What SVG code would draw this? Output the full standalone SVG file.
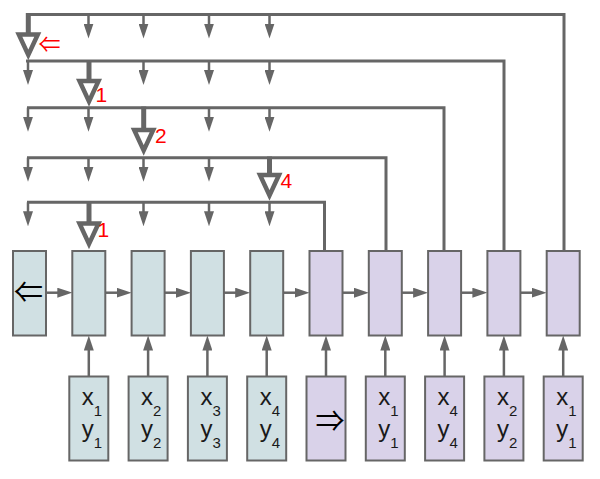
<svg xmlns="http://www.w3.org/2000/svg" xmlns:xlink="http://www.w3.org/1999/xlink" width="600" height="479" viewBox="0 0 600 479">
<style>
  .bus { fill: none; stroke: #666666; stroke-width: 3; }
  .stem { stroke: #666666; stroke-width: 2.5; }
  .thick { stroke: #666666; stroke-width: 5; }
  .hollow { fill: #ffffff; stroke: #666666; stroke-width: 4.5; stroke-linejoin: miter; }
  .blue { fill: #d0e0e3; stroke: #666666; stroke-width: 2; }
  .purple { fill: #d9d2e9; stroke: #666666; stroke-width: 2; }
  .lbl { font-family: "Liberation Sans", Arial, sans-serif; font-size: 24px; fill: #1a1a1a; }
  .sub { font-size: 15px; }
  .red { font-family: "Liberation Sans", Arial, sans-serif; font-size: 21px; fill: #ff0000; }
  .sym { font-family: "Noto Sans CJK JP", "DejaVu Sans", sans-serif; fill: #000000; }
</style>
<defs>
  <marker id="ah" markerUnits="userSpaceOnUse" viewBox="0 0 15 10" markerWidth="15" markerHeight="10" refX="5" refY="5" orient="auto">
    <path d="M0,0 L15,5 L0,10 z" fill="#666666"/>
  </marker>
  <path id="tri" class="hollow" d="M-9.5,-25.5 L9.5,-25.5 L0,-5 z"/>
</defs>

<g id="connectors">
  <!-- bus lines -->
  <path class="bus" d="M26,14.5 H564 V251"/>
  <path class="bus" d="M26,61 H504 V251"/>
  <path class="bus" d="M27,107.7 H444 V251"/>
  <path class="bus" d="M27,157.7 H386 V251"/>
  <path class="bus" d="M27,202.3 H324.5 V251"/>

  <!-- small drop arrows, bus 1 -->
  <line class="stem" x1="88.5" y1="14.5" x2="88.5" y2="28.5" marker-end="url(#ah)"/>
  <line class="stem" x1="143.5" y1="14.5" x2="143.5" y2="28.5" marker-end="url(#ah)"/>
  <line class="stem" x1="209" y1="14.5" x2="209" y2="28.5" marker-end="url(#ah)"/>
  <line class="stem" x1="269.5" y1="14.5" x2="269.5" y2="28.5" marker-end="url(#ah)"/>
  <!-- bus 2 -->
  <line class="stem" x1="28" y1="61" x2="28" y2="75" marker-end="url(#ah)"/>
  <line class="stem" x1="143.5" y1="61" x2="143.5" y2="75" marker-end="url(#ah)"/>
  <line class="stem" x1="209" y1="61" x2="209" y2="75" marker-end="url(#ah)"/>
  <line class="stem" x1="269.5" y1="61" x2="269.5" y2="75" marker-end="url(#ah)"/>
  <!-- bus 3 -->
  <line class="stem" x1="28" y1="107.7" x2="28" y2="121.7" marker-end="url(#ah)"/>
  <line class="stem" x1="88.5" y1="107.7" x2="88.5" y2="121.7" marker-end="url(#ah)"/>
  <line class="stem" x1="209" y1="107.7" x2="209" y2="121.7" marker-end="url(#ah)"/>
  <line class="stem" x1="269.5" y1="107.7" x2="269.5" y2="121.7" marker-end="url(#ah)"/>
  <!-- bus 4 -->
  <line class="stem" x1="28" y1="157.7" x2="28" y2="171.7" marker-end="url(#ah)"/>
  <line class="stem" x1="88.5" y1="157.7" x2="88.5" y2="171.7" marker-end="url(#ah)"/>
  <line class="stem" x1="143.5" y1="157.7" x2="143.5" y2="171.7" marker-end="url(#ah)"/>
  <line class="stem" x1="209" y1="157.7" x2="209" y2="171.7" marker-end="url(#ah)"/>
  <!-- bus 5 -->
  <line class="stem" x1="28" y1="202.3" x2="28" y2="216.3" marker-end="url(#ah)"/>
  <line class="stem" x1="143.5" y1="202.3" x2="143.5" y2="216.3" marker-end="url(#ah)"/>
  <line class="stem" x1="209" y1="202.3" x2="209" y2="216.3" marker-end="url(#ah)"/>
  <line class="stem" x1="269.5" y1="202.3" x2="269.5" y2="216.3" marker-end="url(#ah)"/>

  <!-- big hollow arrows -->
  <g id="big-arrow-0">
    <line class="thick" x1="28.3" y1="13" x2="28.3" y2="35"/>
    <use xlink:href="#tri" href="#tri" x="28.3" y="60"/>
  </g>
  <g id="big-arrow-1">
    <line class="thick" x1="89" y1="60" x2="89" y2="82"/>
    <use xlink:href="#tri" href="#tri" x="89" y="106.5"/>
  </g>
  <g id="big-arrow-2">
    <line class="thick" x1="143.7" y1="106.5" x2="143.7" y2="130"/>
    <use xlink:href="#tri" href="#tri" x="143.7" y="155.5"/>
  </g>
  <g id="big-arrow-3">
    <line class="thick" x1="269.5" y1="156.5" x2="269.5" y2="176"/>
    <use xlink:href="#tri" href="#tri" x="269.5" y="200.5"/>
  </g>
  <g id="big-arrow-4">
    <line class="thick" x1="89" y1="201" x2="89" y2="224"/>
    <use xlink:href="#tri" href="#tri" x="89" y="249"/>
  </g>

  <!-- horizontal arrows between upper boxes -->
  <line class="stem" x1="46" y1="292.7" x2="62.3" y2="292.7" marker-end="url(#ah)"/>
  <line class="stem" x1="105.3" y1="292.7" x2="121.6" y2="292.7" marker-end="url(#ah)"/>
  <line class="stem" x1="164.6" y1="292.7" x2="180.9" y2="292.7" marker-end="url(#ah)"/>
  <line class="stem" x1="223.9" y1="292.7" x2="240.2" y2="292.7" marker-end="url(#ah)"/>
  <line class="stem" x1="283.2" y1="292.7" x2="299.5" y2="292.7" marker-end="url(#ah)"/>
  <line class="stem" x1="342.5" y1="292.7" x2="358.8" y2="292.7" marker-end="url(#ah)"/>
  <line class="stem" x1="401.8" y1="292.7" x2="418.1" y2="292.7" marker-end="url(#ah)"/>
  <line class="stem" x1="461.1" y1="292.7" x2="477.4" y2="292.7" marker-end="url(#ah)"/>
  <line class="stem" x1="520.4" y1="292.7" x2="536.7" y2="292.7" marker-end="url(#ah)"/>

  <!-- vertical arrows from inputs -->
  <line class="stem" x1="88.8" y1="376.5" x2="88.8" y2="345.5" marker-end="url(#ah)"/>
  <line class="stem" x1="148.1" y1="376.5" x2="148.1" y2="345.5" marker-end="url(#ah)"/>
  <line class="stem" x1="207.4" y1="376.5" x2="207.4" y2="345.5" marker-end="url(#ah)"/>
  <line class="stem" x1="266.7" y1="376.5" x2="266.7" y2="345.5" marker-end="url(#ah)"/>
  <line class="stem" x1="326" y1="376.5" x2="326" y2="345.5" marker-end="url(#ah)"/>
  <line class="stem" x1="385.3" y1="376.5" x2="385.3" y2="345.5" marker-end="url(#ah)"/>
  <line class="stem" x1="444.6" y1="376.5" x2="444.6" y2="345.5" marker-end="url(#ah)"/>
  <line class="stem" x1="503.9" y1="376.5" x2="503.9" y2="345.5" marker-end="url(#ah)"/>
  <line class="stem" x1="563.2" y1="376.5" x2="563.2" y2="345.5" marker-end="url(#ah)"/>
</g>

<g id="labels">
  <text class="sym" style="fill:#ff0000" x="49.5" y="51.5" font-size="22" text-anchor="middle">⇐</text>
  <text class="red" x="95.5" y="101.7">1</text>
  <text class="red" x="155" y="143.3">2</text>
  <text class="red" x="280.5" y="188.3">4</text>
  <text class="red" x="97.5" y="236.7">1</text>
</g>

<!-- upper row -->
<g id="h0"><rect class="blue" x="13" y="251" width="33" height="84.5"/><text class="sym" x="28.5" y="303" font-size="29" text-anchor="middle">⇐</text></g>
<g id="h1"><rect class="blue" x="72.3" y="251" width="33" height="84.5"/></g>
<g id="h2"><rect class="blue" x="131.6" y="251" width="33" height="84.5"/></g>
<g id="h3"><rect class="blue" x="190.9" y="251" width="33" height="84.5"/></g>
<g id="h4"><rect class="blue" x="250.2" y="251" width="33" height="84.5"/></g>
<g id="h5"><rect class="purple" x="309.5" y="251" width="33" height="84.5"/></g>
<g id="h6"><rect class="purple" x="368.8" y="251" width="33" height="84.5"/></g>
<g id="h7"><rect class="purple" x="428.1" y="251" width="33" height="84.5"/></g>
<g id="h8"><rect class="purple" x="487.4" y="251" width="33" height="84.5"/></g>
<g id="h9"><rect class="purple" x="546.7" y="251" width="33" height="84.5"/></g>

<!-- input row -->
<g id="in1"><rect class="blue" x="69.3" y="376.5" width="39" height="84"/>
  <text class="lbl" x="81.8" y="405">x<tspan class="sub" dy="11">1</tspan></text>
  <text class="lbl" x="81.8" y="437">y<tspan class="sub" dy="11">1</tspan></text></g>
<g id="in2"><rect class="blue" x="128.6" y="376.5" width="39" height="84"/>
  <text class="lbl" x="141.1" y="405">x<tspan class="sub" dy="11">2</tspan></text>
  <text class="lbl" x="141.1" y="437">y<tspan class="sub" dy="11">2</tspan></text></g>
<g id="in3"><rect class="blue" x="187.9" y="376.5" width="39" height="84"/>
  <text class="lbl" x="200.4" y="405">x<tspan class="sub" dy="11">3</tspan></text>
  <text class="lbl" x="200.4" y="437">y<tspan class="sub" dy="11">3</tspan></text></g>
<g id="in4"><rect class="blue" x="247.2" y="376.5" width="39" height="84"/>
  <text class="lbl" x="259.7" y="405">x<tspan class="sub" dy="11">4</tspan></text>
  <text class="lbl" x="259.7" y="437">y<tspan class="sub" dy="11">4</tspan></text></g>
<g id="in5"><rect class="purple" x="306.5" y="376.5" width="39" height="84"/>
  <text class="sym" x="330" y="432" font-size="29" text-anchor="middle">⇒</text></g>
<g id="in6"><rect class="purple" x="365.8" y="376.5" width="39" height="84"/>
  <text class="lbl" x="378.3" y="405">x<tspan class="sub" dy="11">1</tspan></text>
  <text class="lbl" x="378.3" y="437">y<tspan class="sub" dy="11">1</tspan></text></g>
<g id="in7"><rect class="purple" x="425.1" y="376.5" width="39" height="84"/>
  <text class="lbl" x="437.6" y="405">x<tspan class="sub" dy="11">4</tspan></text>
  <text class="lbl" x="437.6" y="437">y<tspan class="sub" dy="11">4</tspan></text></g>
<g id="in8"><rect class="purple" x="484.4" y="376.5" width="39" height="84"/>
  <text class="lbl" x="496.9" y="405">x<tspan class="sub" dy="11">2</tspan></text>
  <text class="lbl" x="496.9" y="437">y<tspan class="sub" dy="11">2</tspan></text></g>
<g id="in9"><rect class="purple" x="543.7" y="376.5" width="39" height="84"/>
  <text class="lbl" x="556.2" y="405">x<tspan class="sub" dy="11">1</tspan></text>
  <text class="lbl" x="556.2" y="437">y<tspan class="sub" dy="11">1</tspan></text></g>
</svg>
